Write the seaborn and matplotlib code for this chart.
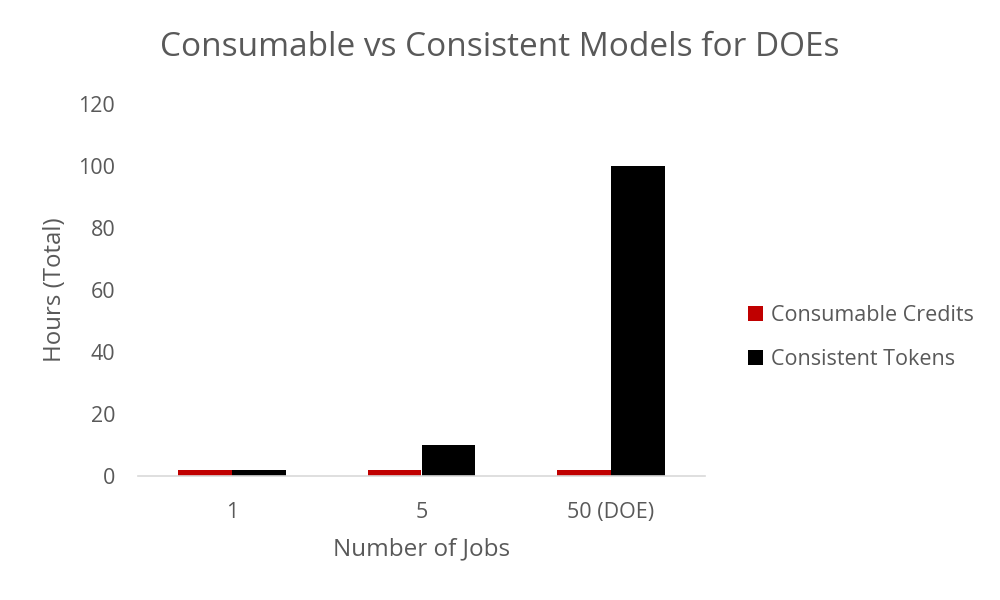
import matplotlib
matplotlib.use("Agg")
import matplotlib.pyplot as plt
import seaborn as sns
import pandas as pd

categories = ["1", "5", "50 (DOE)"]
consumable_credits = [2, 2, 2]
consistent_tokens = [2, 10, 100]
series_names = ["Consumable Credits", "Consistent Tokens"]
yticks = [0, 20, 40, 60, 80, 100, 120]

df = pd.DataFrame({
    "Number of Jobs": categories * 2,
    "Hours": consumable_credits + consistent_tokens,
    "Series": [series_names[0]] * 3 + [series_names[1]] * 3,
})

sns.set_theme(style="white")
plt.rcParams['font.family'] = ['Open Sans', 'DejaVu Sans']
gray = "#595959"

fig = plt.figure(figsize=(10, 6), dpi=100)
ax = fig.add_axes([0.1375, 0.2067, 0.568, 0.62])
sns.barplot(data=df, x="Number of Jobs", y="Hours", hue="Series",
            palette=["#C00000", "#000000"], width=0.57, ax=ax,
            saturation=1, edgecolor="none", errorbar=None)

ax.set_ylim(0, 120)
ax.set_yticks(yticks)
ax.set_xlim(-0.5, 2.5)
for s in ["top", "right", "left"]:
    ax.spines[s].set_visible(False)
ax.spines["bottom"].set_color("#D9D9D9")
ax.spines["bottom"].set_linewidth(1.2)
ax.tick_params(axis="both", length=0, labelsize=15.5, colors=gray)
ax.tick_params(axis="x", pad=19)
ax.tick_params(axis="y", pad=16)
ax.set_xlabel("Number of Jobs", fontsize=17.5, color=gray, labelpad=10)
ax.set_ylabel("Hours (Total)", fontsize=17.3, color=gray, labelpad=8)
fig.text(0.5, 1 - 47 / 600, "Consumable vs Consistent Models for DOEs",
         fontsize=24, color=gray, ha="center", va="center")

leg = ax.legend(loc="center left", bbox_to_anchor=(1.04, 0.372), frameon=False,
                fontsize=15.5, handlelength=0.7, handleheight=0.7, handletextpad=0.4,
                labelspacing=1.1)
for t in leg.get_texts():
    t.set_color(gray)

fig.savefig("out.png", dpi=100)
